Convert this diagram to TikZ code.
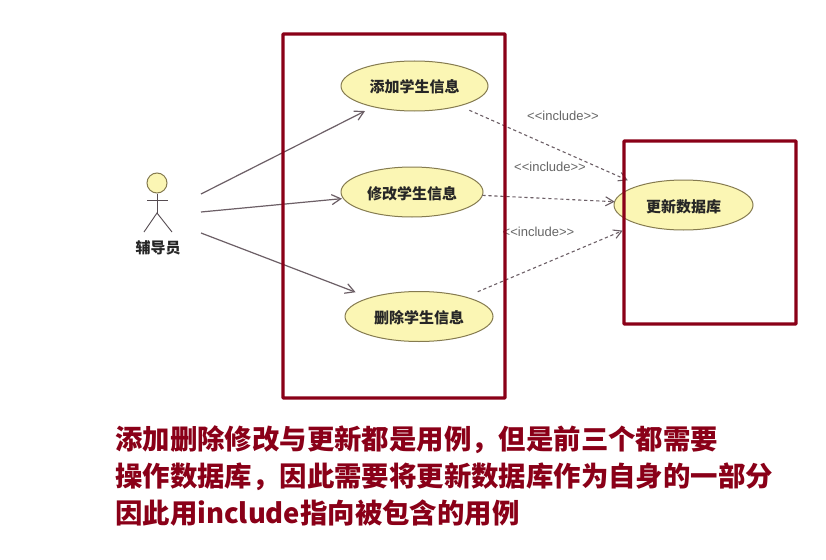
\documentclass[tikz,border=0pt]{standalone}
\usepackage{fontspec}
\newfontfamily\cjk{Noto Sans CJK SC}
\newfontfamily\labelfont{Liberation Sans}
\usetikzlibrary{arrows.meta, positioning, shapes.geometric}
\definecolor{frameRed}{HTML}{8A0018}
\definecolor{caseFill}{HTML}{FBF6B4}
\definecolor{caseLine}{HTML}{857B50}
\definecolor{linkGrey}{HTML}{6C5F66}

\begin{document}
\begin{tikzpicture}[x=1pt, y=-1pt,
  usecase/.style={draw=caseLine, fill=caseFill, ellipse, line width=1pt, inner sep=0pt, outer sep=0pt, minimum height=50pt, text height=16pt, text depth=2pt, font={\fontsize{15}{18}\cjk\bfseries}, text=black!85},
  frame/.style={draw=frameRed, line width=3.4pt, rounded corners=0.8pt},
  stick/.style={draw=linkGrey!80!black, line width=0.9pt},
  assoc/.style={-{Straight Barb[length=9pt, width=10pt]}, draw=linkGrey, line width=1.2pt},
  incl/.style={-{Straight Barb[length=8pt, width=9pt]}, draw=linkGrey, line width=1.1pt, dash pattern=on 3.2pt off 2.8pt},
  incllabel/.style={font={\fontsize{13}{15}\labelfont}, text=black!60, inner sep=0pt}
]
\useasboundingbox (0,0) rectangle (826,559);
\fill[white] (0,0) rectangle (826,559);

% use cases
\node[usecase, minimum width=147pt] (add) at (414.5,86) {添加学生信息};
\node[usecase, minimum width=142pt, below=56pt of add, xshift=-2.5pt] (edit) {修改学生信息};
\node[usecase, minimum width=148pt, below=74.5pt of edit, xshift=7pt] (del) {删除学生信息};
\node[usecase, minimum width=139pt, right=131pt of edit, yshift=-13pt] (db) {更新数据库};

% actor
\node[draw=caseLine, fill=caseFill, circle, line width=1pt, minimum size=20pt, inner sep=0pt] (head) at (157,183) {};
\coordinate (hip) at (157,213);
\coordinate (larm) at (147,200);
\coordinate (rarm) at (168,200);
\coordinate (lfoot) at (144,232);
\coordinate (rfoot) at (172,232);
\draw[stick] (head) -- (hip);
\draw[stick] (larm) -- (rarm);
\draw[stick] (lfoot) -- (hip) -- (rfoot);
\node[font={\fontsize{15}{18}\cjk\bfseries}, text=black!85, inner sep=0pt] (helper) at (158,248) {辅导员};

% actor links
\coordinate (from1) at (201,194);
\coordinate (from2) at (201,212);
\coordinate (from3) at (201,233);
\draw[assoc, shorten >=9.5pt] (from1) -- (add);
\draw[assoc, shorten >=1.5pt] (from2) -- (edit);
\draw[assoc, shorten >=15.5pt] (from3) -- (del);

% include links
\draw[incl, shorten <=11pt, shorten >=13pt] (add) -- (db);
\draw[incl] (edit) -- (db);
\draw[incl, shorten <=13.5pt, shorten >=17pt] (del) -- (db);
\node[incllabel] (inc1) at (563,116) {<{}<include>{}>};
\node[incllabel] (inc2) at (550,167) {<{}<include>{}>};
\node[incllabel] (inc3) at (538.5,232) {<{}<include>{}>};

% red frames
\node[frame, minimum width=222pt, minimum height=364pt, inner sep=0pt] (left) at (394,216) {};
\node[frame, minimum width=172pt, minimum height=183pt, inner sep=0pt] (right) at (710,232.5) {};

% note
\node[anchor=west, align=left, inner sep=0pt, text=frameRed, font={\fontsize{27.4}{37}\cjk\bfseries}] (note) at (115,475.5) {添加删除修改与更新都是用例，但是前三个都需要\\操作数据库，因此需要将更新数据库作为自身的一部分\\因此用include指向被包含的用例};
\end{tikzpicture}
\end{document}
